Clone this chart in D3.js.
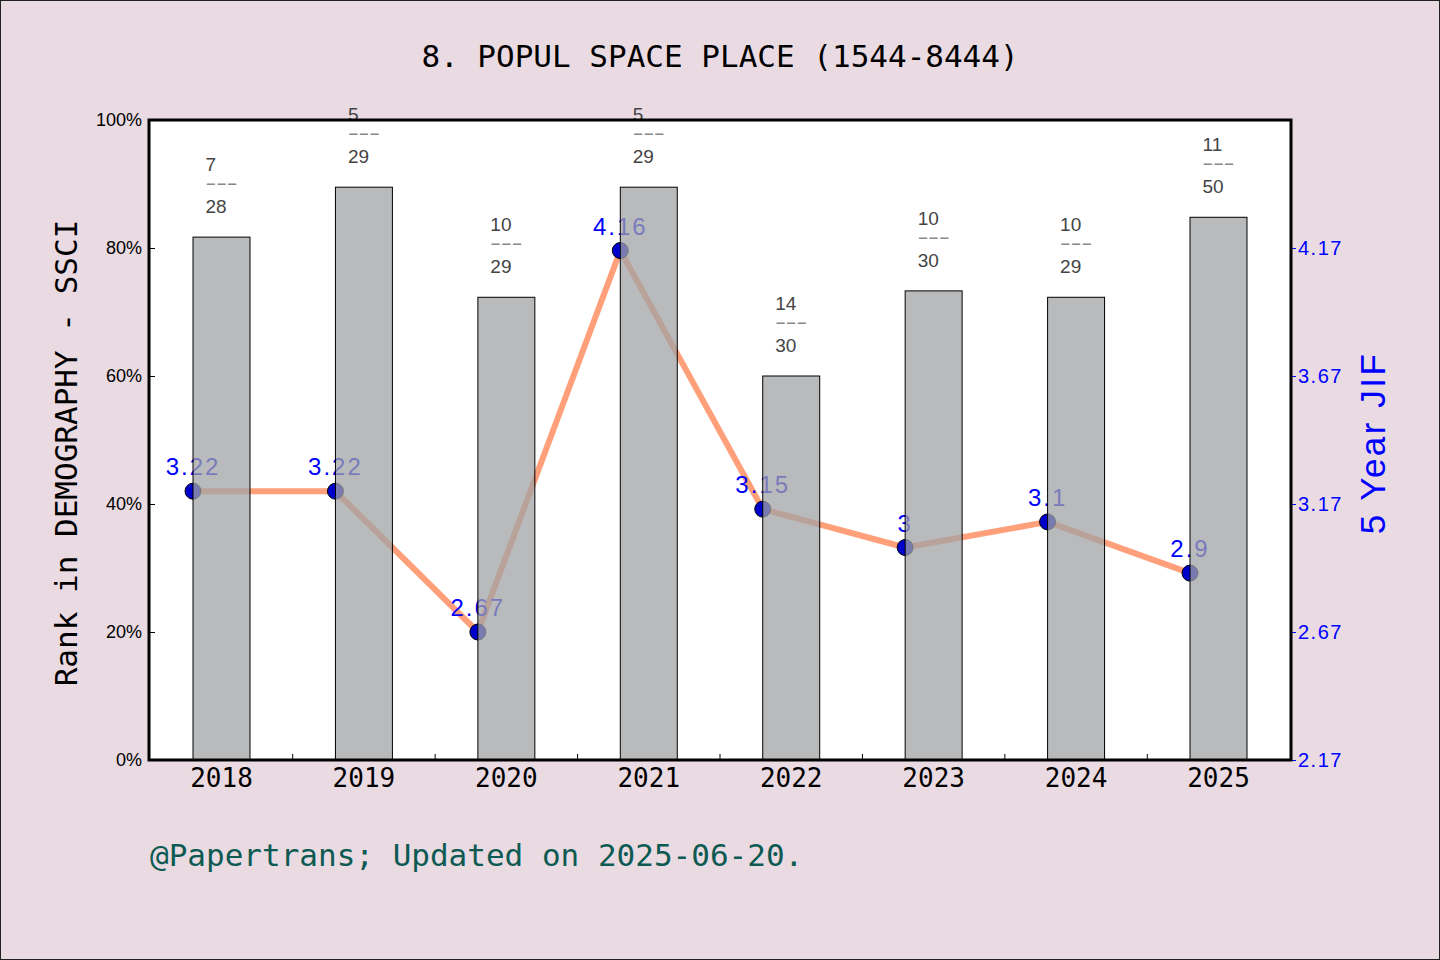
<!DOCTYPE html>
<html>
<head>
<meta charset="utf-8">
<script src="https://cdn.jsdelivr.net/npm/d3@7"></script>
<style>
  html, body { margin: 0; padding: 0; background: #eadae2; }
  svg { display: block; }
</style>
</head>
<body>
<svg id="chart" width="1440" height="960"></svg>
<script>
// ---- data ----
const years = ["2018", "2019", "2020", "2021", "2022", "2023", "2024", "2025"];
const rankPct = [81.7, 89.5, 72.3, 89.5, 60.0, 73.3, 72.3, 84.8];
const rankNum = ["7", "5", "10", "5", "14", "10", "10", "11"];
const rankTotal = ["28", "29", "29", "29", "30", "30", "29", "50"];
const jif = [3.22, 3.22, 2.67, 4.16, 3.15, 3.0, 3.1, 2.9];
const jifLabels = ["3.22", "3.22", "2.67", "4.16", "3.15", "3", "3.1", "2.9"];
const leftTicks = [0, 20, 40, 60, 80, 100];
const rightTicks = [2.17, 2.67, 3.17, 3.67, 4.17];
const titleText = "8. POPUL SPACE PLACE (1544-8444)";
const footerText = "@Papertrans; Updated on 2025-06-20.";

// ---- layout ----
const W = 1440, H = 960;
const L = 149, R = 1291, T = 120, B = 760;
const mono = "'DejaVu Sans Mono', 'Liberation Mono', monospace";
const sans = "'Liberation Sans', Arial, sans-serif";

const svg = d3.select("#chart");

// background + outer border
svg.append("rect").attr("x", 0.5).attr("y", 0.5).attr("width", W - 1).attr("height", H - 1)
  .attr("fill", "#eadae2").attr("stroke", "#222").attr("stroke-width", 1);

// scales
const x = d3.scaleBand().domain(years).range([L, R]).paddingInner(0.6).paddingOuter(0.309);
const yL = d3.scaleLinear().domain([0, 100]).range([B, T]);
const yR = d3.scaleLinear().domain([2.17, 4.67]).range([B, T]);

// plot background
svg.append("rect").attr("x", L).attr("y", T).attr("width", R - L).attr("height", B - T).attr("fill", "#ffffff");

// line + points
const pts = years.map((yr, i) => ({ yr, v: jif[i], lab: jifLabels[i] }));
const line = d3.line().x(d => x(d.yr)).y(d => yR(d.v));
svg.append("path").datum(pts).attr("d", line)
  .attr("fill", "none").attr("stroke", "#ffa07a").attr("stroke-width", 6)
  .attr("stroke-linejoin", "round");
svg.append("g").selectAll("circle").data(pts).join("circle")
  .attr("cx", d => x(d.yr)).attr("cy", d => yR(d.v)).attr("r", 8)
  .attr("fill", "#0000cd").attr("stroke", "#000").attr("stroke-width", 1);
svg.append("g").selectAll("text").data(pts).join("text")
  .attr("x", d => x(d.yr)).attr("y", d => yR(d.v) - 16)
  .attr("text-anchor", "middle").attr("font-family", sans).attr("font-size", 24)
  .attr("letter-spacing", 2)
  .attr("fill", "#0000ff").text(d => d.lab);

// bars (semi-transparent over line)
const bars = years.map((yr, i) => ({ yr, v: rankPct[i], n: rankNum[i], t: rankTotal[i] }));
svg.append("g").selectAll("rect").data(bars).join("rect")
  .attr("x", d => x(d.yr)).attr("y", d => yL(d.v))
  .attr("width", x.bandwidth()).attr("height", d => B - yL(d.v))
  .attr("fill", "#a2a3a6").attr("fill-opacity", 0.75)
  .attr("stroke", "#000").attr("stroke-width", 1);

// bar fraction labels
const bl = svg.append("g").selectAll("g").data(bars).join("g")
  .attr("transform", d => `translate(${x(d.yr) + x.bandwidth() / 2 - 16},${yL(d.v)})`);
bl.append("text").attr("x", 0).attr("y", -66).attr("font-family", sans).attr("font-size", 19)
  .attr("fill", "#444").text(d => d.n);
bl.append("text").attr("x", 0).attr("y", -49).attr("font-family", sans).attr("font-size", 13)
  .attr("font-weight", "bold").attr("textLength", 32).attr("lengthAdjust", "spacingAndGlyphs")
  .attr("fill", "#888").text("---");
bl.append("text").attr("x", 0).attr("y", -24).attr("font-family", sans).attr("font-size", 19)
  .attr("fill", "#444").text(d => d.t);

// left axis
const gL = svg.append("g").attr("transform", `translate(${L},0)`)
  .call(d3.axisLeft(yL).tickValues(leftTicks).tickFormat(d => d + "%").tickSizeInner(-6).tickSizeOuter(0).tickPadding(7));
gL.select(".domain").remove();
gL.selectAll("line").attr("stroke", "#000");
gL.selectAll("text").attr("font-family", sans).attr("font-size", 18).attr("fill", "#000");

// right axis
const gR = svg.append("g").attr("transform", `translate(${R},0)`)
  .call(d3.axisRight(yR).tickValues(rightTicks).tickFormat(d3.format(".2f")).tickSizeInner(5).tickSizeOuter(0).tickPadding(2));
gR.select(".domain").remove();
gR.selectAll("line").attr("stroke", "#0000ff");
gR.selectAll("text").attr("font-family", sans).attr("font-size", 20).attr("letter-spacing", 1.5).attr("fill", "#0000ff");

// bottom axis: labels at band centres, ticks at midpoints between bands (inward)
const gB = svg.append("g").attr("transform", `translate(0,${B})`);
gB.selectAll("text").data(years).join("text")
  .attr("x", d => x(d) + x.bandwidth() / 2).attr("y", 27)
  .attr("text-anchor", "middle").attr("font-family", mono).attr("font-size", 26)
  .attr("fill", "#000").text(d => d);
gB.selectAll("line").data(years.slice(1)).join("line")
  .attr("x1", (d, i) => (x(years[i]) + x(d)) / 2 + x.bandwidth() / 2)
  .attr("x2", (d, i) => (x(years[i]) + x(d)) / 2 + x.bandwidth() / 2)
  .attr("y1", 0).attr("y2", -6).attr("stroke", "#000");

// frame
svg.append("rect").attr("x", L).attr("y", T).attr("width", R - L).attr("height", B - T)
  .attr("fill", "none").attr("stroke", "#000").attr("stroke-width", 3);

// title
svg.append("text").attr("x", 720).attr("y", 67).attr("text-anchor", "middle")
  .attr("font-family", mono).attr("font-size", 31).attr("fill", "#000").text(titleText);

// axis titles
svg.append("text").attr("transform", "translate(77,453) rotate(-90)").attr("text-anchor", "middle")
  .attr("font-family", mono).attr("font-size", 31).attr("fill", "#000").text("Rank in DEMOGRAPHY - SSCI");
svg.append("text").attr("transform", "translate(1385,443) rotate(-90)").attr("text-anchor", "middle")
  .attr("font-family", sans).attr("font-size", 35).attr("letter-spacing", 2.5).attr("fill", "#0000ff").text("5 Year JIF");

// footer
svg.append("text").attr("x", 150).attr("y", 866)
  .attr("font-family", mono).attr("font-size", 31).attr("fill", "#0d5a52").text(footerText);
</script>
</body>
</html>
